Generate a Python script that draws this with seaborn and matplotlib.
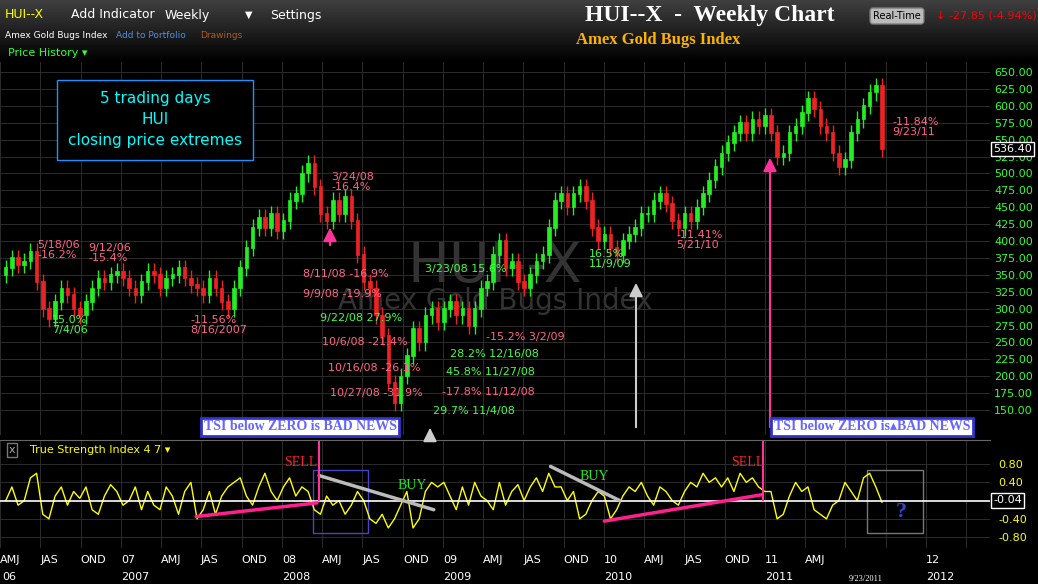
import numpy as np
import pandas as pd
import matplotlib
matplotlib.use("Agg")
import matplotlib.pyplot as plt
import matplotlib.dates as mdates
from matplotlib.patches import Rectangle
import seaborn as sns

# biweekly closes of HUI from April 2006 to 9/23/2011
closes_2006 = [360, 375, 365, 370, 385, 340, 300, 285, 310, 330, 320, 300, 290, 310, 330, 345,
               340, 350, 355, 345]
closes_2007 = [330, 320, 340, 355, 350, 330, 345, 350, 360, 345, 335, 330, 320, 345, 330, 310,
               300, 330, 360, 390, 420, 435, 420, 440, 415, 430]
closes_2008 = [460, 470, 500, 515, 480, 440, 430, 460, 440, 465, 430, 380, 340, 330, 290, 260,
               190, 160, 200, 230, 270, 250, 290, 300, 280, 300]
closes_2009 = [310, 290, 300, 275, 300, 330, 340, 380, 400, 360, 370, 340, 330, 350, 370, 380,
               420, 460, 470, 450, 470, 480, 460, 420, 400, 410]
closes_2010 = [390, 380, 400, 410, 420, 440, 440, 460, 470, 455, 430, 420, 440, 430, 450, 470,
               490, 510, 530, 545, 560, 575, 560, 580, 570, 585]
closes_2011 = [560, 525, 530, 560, 570, 590, 610, 595, 570, 560, 530, 510, 520, 560, 580, 600,
               620, 630, 536]

tsi_2006 = [0.0, 0.3, -0.1, 0.0, 0.5, 0.6, -0.3, -0.4, 0.1, 0.3, -0.1, 0.2, 0.05, 0.3, -0.2, -0.3,
            0.1, 0.35, 0.2, -0.1]
tsi_2007 = [0.0, 0.3, -0.2, 0.2, -0.1, -0.2, 0.3, 0.1, -0.3, 0.2, 0.4, -0.4, -0.2, 0.2, -0.3, 0.1,
            0.3, 0.4, 0.5, 0.1, -0.1, 0.3, 0.6, 0.2, 0.0, 0.3]
tsi_2008 = [0.5, 0.1, 0.3, 0.2, -0.2, -0.3, 0.1, -0.1, 0.0, -0.3, -0.1, 0.2, 0.0, -0.4, -0.5, -0.3,
            -0.6, -0.4, -0.1, 0.2, -0.6, -0.4, 0.2, 0.4, 0.3, 0.4]
tsi_2009 = [0.1, -0.2, 0.3, -0.1, 0.4, 0.1, 0.0, -0.2, 0.4, -0.1, 0.2, 0.35, 0.0, 0.3, 0.5, 0.2,
            0.6, 0.3, 0.3, 0.0, 0.2, -0.4, -0.3, 0.0, 0.2, 0.1]
tsi_2010 = [-0.4, -0.2, 0.1, 0.3, 0.2, 0.4, 0.1, -0.1, 0.3, 0.2, 0.0, -0.1, 0.2, 0.4, 0.3, 0.6,
            0.4, 0.5, 0.3, 0.5, 0.2, 0.6, 0.4, 0.5, 0.3, 0.2]
tsi_2011 = [0.2, -0.4, -0.3, 0.1, 0.4, 0.2, 0.3, -0.2, -0.3, -0.4, -0.1, 0.0, 0.4, 0.2, 0.0, 0.5,
            0.6, 0.3, -0.04]

closes = closes_2006 + closes_2007 + closes_2008 + closes_2009 + closes_2010 + closes_2011
tsi = tsi_2006 + tsi_2007 + tsi_2008 + tsi_2009 + tsi_2010 + tsi_2011
n = min(len(closes), len(tsi))
dates = pd.date_range(end="2011-09-23", periods=n, freq="14D")
df = pd.DataFrame({"date": dates, "close": closes[-n:], "tsi": tsi[-n:]})
df["open"] = df["close"].shift(1).fillna(df["close"].iloc[0] - 10)

sns.set_style("dark")
BG = "black"
W, H = 1038, 584
fig = plt.figure(figsize=(W / 100, H / 100), dpi=100, facecolor=BG)

def fx(x):
    return x / W

def fy(y):
    return 1 - y / H

# header bar
hdr = fig.add_axes([0, fy(62), 1, 62 / H])
hdr.set_axis_off()
hdr.imshow(np.linspace(0.25, 0.0, 50).reshape(-1, 1), cmap="gray", aspect="auto",
           extent=[0, 1, 0, 1], vmin=0, vmax=1)
fig.text(fx(5), fy(15), "HUI--X", color="yellow", fontsize=9, va="center")
fig.text(fx(71), fy(15), "Add Indicator", color="white", fontsize=9, va="center")
fig.text(fx(165), fy(15), "Weekly", color="white", fontsize=9, va="center")
fig.text(fx(245), fy(15), "\u25bc", color="white", fontsize=7, va="center")
fig.text(fx(270), fy(15), "Settings", color="white", fontsize=9, va="center")
fig.text(fx(5), fy(36), "Amex Gold Bugs Index", color="white", fontsize=6.5, va="center")
fig.text(fx(116), fy(36), "Add to Portfolio", color="#4a90e2", fontsize=6.5, va="center")
fig.text(fx(200), fy(36), "Drawings", color="#b05a1a", fontsize=6.5, va="center")
fig.text(fx(8), fy(53), "Price History \u25be", color="#33ff33", fontsize=8, va="center")
fig.text(fx(710), fy(15), "HUI--X  -  Weekly Chart", color="white", fontsize=17,
         family="Liberation Serif", weight="bold", ha="center", va="center")
fig.text(fx(658), fy(40), "Amex Gold Bugs Index", color="#ffb300", fontsize=12,
         family="Liberation Serif", weight="bold", ha="center", va="center")
fig.text(fx(897), fy(16), "Real-Time", color="black", fontsize=7, ha="center", va="center",
         bbox=dict(boxstyle="round,pad=0.3", fc="#bbbbbb", ec="#888888"))
fig.text(fx(936), fy(16), "\u2193 -27.85 (-4.94%)", color="red", fontsize=8, va="center")

t0, t1 = pd.Timestamp("2006-04-01"), pd.Timestamp("2012-05-25")

# price panel
ax = fig.add_axes([0, fy(435), fx(990), (435 - 62) / H], facecolor=BG)
ax.set_xlim(t0, t1)
ax.set_ylim(113, 665)
up = df["close"] >= df["open"]
for mask, col in [(up, "#22ee22"), (~up, "#ee2222")]:
    d = df[mask]
    lo = np.minimum(d["open"], d["close"])
    hi = np.maximum(d["open"], d["close"])
    ax.vlines(d["date"], lo - 12, hi + 12, color=col, lw=1)
    ax.bar(d["date"], hi - lo + 1, bottom=lo, width=8, color=col, edgecolor=col, lw=0.5)
ax.yaxis.tick_right()
ax.set_yticks(np.arange(150, 651, 25))
ax.set_yticklabels([f"{v:.2f}" for v in np.arange(150, 651, 25)], color="#33ff33", fontsize=8)
ax.tick_params(axis="y", length=0, pad=3)
ax.set_xticks(pd.date_range("2006-04-01", "2012-04-01", freq="QS"))
ax.set_xticklabels([])
ax.tick_params(axis="x", length=0)
ax.grid(True, color="#333333", lw=0.6)
for s in ax.spines.values():
    s.set_visible(False)
ax.text(0.5, 0.45, "HUI--X", transform=ax.transAxes, color="#333333", fontsize=40,
        ha="center", va="center", zorder=0)
ax.text(0.5, 0.36, "Amex Gold Bugs Index", transform=ax.transAxes, color="#333333",
        fontsize=20, ha="center", va="center", zorder=0)
ax.text(1.003, (536.4 - 113) / 552, "536.40", transform=ax.transAxes, color="white",
        fontsize=8, va="center", bbox=dict(fc="black", ec="white", pad=1.5))

# annotations in the price panel
fig.text(fx(155), fy(120), "5 trading days\nHUI\nclosing price extremes", color="cyan",
         fontsize=11, ha="center", va="center", linespacing=1.5,
         bbox=dict(fc="black", ec="#1e90ff", pad=8))
pink = "#ff6688"
green = "#44ff44"
notes = [
    (37, 250, "5/18/06\n-16.2%", pink), (88, 253, "9/12/06\n-15.4%", pink),
    (52, 325, "15.0%\n7/4/06", green), (190, 325, "-11.56%\n8/16/2007", pink),
    (331, 182, "3/24/08\n-16.4%", pink), (303, 274, "8/11/08 -16.9%", pink),
    (303, 294, "9/9/08 -19.9%", pink), (320, 318, "9/22/08 27.9%", green),
    (322, 342, "10/6/08 -21.4%", pink), (328, 368, "10/16/08 -26.1%", pink),
    (330, 393, "10/27/08 -31.9%", pink), (425, 269, "3/23/08 15.6%", green),
    (450, 354, "28.2% 12/16/08", green), (446, 372, "45.8% 11/27/08", green),
    (442, 392, "-17.8% 11/12/08", pink), (433, 411, "29.7% 11/4/08", green),
    (486, 337, "-15.2% 3/2/09", pink), (589, 259, "16.5%\n11/9/09", green),
    (676, 240, "-11.41%\n5/21/10", pink), (892, 127, "-11.84%\n9/23/11", pink),
]
for x, y, s, c in notes:
    fig.text(fx(x), fy(y), s, color=c, fontsize=8, va="center", linespacing=1.1)

for x, y0, y1, c in [(330, 248, 225, "#ff3399"), (430, 435, 425, "#cccccc"),
                     (636, 430, 280, "#cccccc"), (770, 430, 155, "#ff3399")]:
    fig.add_artist(matplotlib.patches.FancyArrowPatch(
        (fx(x), fy(y0)), (fx(x), fy(y1)), transform=fig.transFigure,
        arrowstyle="-|>,head_width=4,head_length=8", color=c, lw=1.5))
for x, s in [(300, "TSI below ZERO is BAD NEWS"), (872, "TSI below ZERO is\u25b4BAD NEWS")]:
    fig.text(fx(x), fy(427), s, color="#6666ff", fontsize=10,
             family=["Liberation Serif", "DejaVu Sans"],
             weight="bold", ha="center", va="center",
             bbox=dict(fc="white", ec="#3333cc", lw=2, pad=2))

# TSI panel
ax2 = fig.add_axes([0, fy(548), fx(990), (548 - 440) / H], facecolor=BG)
sns.lineplot(data=df, x="date", y="tsi", ax=ax2, color="yellow", lw=1)
ax2.axhline(0, color="white", lw=1.2)
ax2.set_xlim(t0, t1)
ax2.set_ylim(-1.04, 1.33)
ax2.set_xlabel("")
ax2.set_ylabel("")
ax2.yaxis.tick_right()
ax2.set_yticks([0.8, 0.4, -0.4, -0.8])
ax2.set_yticklabels(["0.80", "0.40", "-0.40", "-0.80"], color="yellow", fontsize=8)
ax2.tick_params(axis="y", length=0, pad=6)
ax2.set_xticks(pd.date_range("2006-04-01", "2012-04-01", freq="QS"))
ax2.set_xticklabels([])
ax2.tick_params(axis="x", length=0)
ax2.grid(True, color="#333333", lw=0.6)
for s in ax2.spines.values():
    s.set_visible(False)
ax2.spines["top"].set_visible(True)
ax2.spines["top"].set_color("#666666")
ax2.text(1.003, 0.44, "-0.04", transform=ax2.transAxes, color="white", fontsize=8,
         va="center", bbox=dict(fc="black", ec="white", pad=1.5))
fig.text(fx(12), fy(450), "x", color="#aaaaaa", fontsize=8, ha="center", va="center",
         bbox=dict(fc="black", ec="#777777", pad=1.5))
fig.text(fx(30), fy(450), "True Strength Index 4 7 \u25be", color="yellow", fontsize=8, va="center")

tl = pd.Timestamp
ax2.plot([tl("2007-06-20"), tl("2008-03-20")], [-0.35, -0.05], color="#ff1f8f", lw=2.5)
ax2.plot([tl("2010-01-01"), tl("2010-12-25")], [-0.45, 0.13], color="#ff1f8f", lw=2.5)
ax2.plot([tl("2008-03-25"), tl("2008-12-10")], [0.55, -0.2], color="#bbbbbb", lw=2.5)
ax2.plot([tl("2009-09-01"), tl("2010-02-05")], [0.75, 0.0], color="#bbbbbb", lw=2.5)
ax2.vlines([tl("2008-03-25"), tl("2010-12-28")], 0, 1.33, color="#ff3399", lw=1.5)
ax2.add_patch(Rectangle((mdates.date2num(tl("2008-03-10")), -0.72), 125, 1.4,
                        fill=False, ec="#4444cc", lw=1))
ax2.add_patch(Rectangle((mdates.date2num(tl("2011-08-20")), -0.7), 128, 1.38,
                        fill=False, ec="#777777", lw=1))
ax2.text(tl("2008-01-05"), 0.75, "SELL", color="#ff2222", fontsize=10, family="Liberation Serif")
ax2.text(tl("2010-10-15"), 0.75, "SELL", color="#ff2222", fontsize=10, family="Liberation Serif")
ax2.text(tl("2008-09-20"), 0.25, "BUY", color="#22ee22", fontsize=10, family="Liberation Serif")
ax2.text(tl("2009-11-05"), 0.45, "BUY", color="#22ee22", fontsize=10, family="Liberation Serif")
ax2.text(tl("2011-10-25"), -0.35, "?", color="#3344cc", fontsize=16, weight="bold",
         family="Liberation Serif")

# bottom time labels
qlab = {4: "AMJ", 7: "JAS", 10: "OND"}
xt = ax2.get_xaxis_transform()
for d in pd.date_range("2006-04-01", "2012-01-01", freq="QS"):
    if d in (tl("2011-07-01"), tl("2011-10-01")):
        continue
    lab = qlab[d.month] if d.month != 1 else f"{d.year % 100:02d}"
    ax2.text(d, -0.11, lab, transform=xt, color="white", fontsize=8, ha="left",
             va="center", clip_on=False)
    if d.month == 1:
        ax2.text(d, -0.27, str(d.year), transform=xt, color="white", fontsize=8,
                 ha="left", va="center", clip_on=False)
ax2.text(0.002, -0.27, "06", transform=ax2.transAxes, color="white", fontsize=8, va="center")
ax2.text(tl("2011-07-10"), -0.29, "9/23/2011", transform=xt, color="white", fontsize=6,
         va="center", family="Liberation Serif")

fig.savefig("out.png", dpi=100, facecolor=BG)
